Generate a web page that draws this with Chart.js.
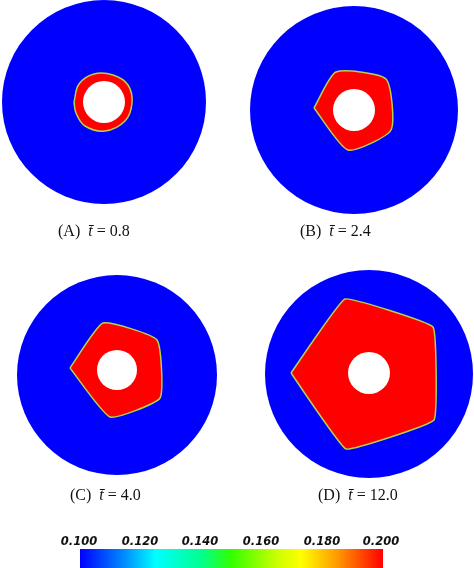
<!DOCTYPE html>
<html>
<head>
<meta charset="utf-8">
<script src="https://cdn.jsdelivr.net/npm/chart.js@4.4.0/dist/chart.umd.min.js"></script>
<style>
  body { margin: 0; background: #fff; }
  #wrap { position: relative; width: 474px; height: 568px; overflow: hidden; }
  #wrap canvas { position: absolute; left: 0; top: 0; z-index: 0; }
  .cap { position: absolute; z-index: 2; font-family: "Liberation Serif", serif; font-size: 16px; color: #111; white-space: pre; }
  .tick { position: absolute; z-index: 2; top: 534px; font-family: "DejaVu Sans", sans-serif; font-style: italic; font-weight: bold; font-size: 11.5px; transform: translateX(-50%); color: #111; }
  #bar { position: absolute; z-index: 2; left: 80px; top: 549px; width: 303px; height: 19px;
    background: linear-gradient(to right, #0000ff 0%, #0090ff 15%, #00ffff 25%, #00ff90 40%, #33ff00 50%, #ccff00 65%, #ffff00 73%, #ff9900 85%, #ff0000 100%); }
</style>
</head>
<body>
<div id="wrap">
  <canvas id="c"></canvas>
  <div class="cap" style="left:58px;top:222px">(A)  <i>t̄</i> = 0.8</div>
  <div class="cap" style="left:300px;top:222px">(B)  <i>t̄</i> = 2.4</div>
  <div class="cap" style="left:70px;top:486px">(C)  <i>t̄</i> = 4.0</div>
  <div class="cap" style="left:318px;top:486px">(D)  <i>t̄</i> = 12.0</div>
  <div id="bar"></div>
</div>
<script>
// panel labels / colour bar
const tickLabels = ["0.100", "0.120", "0.140", "0.160", "0.180", "0.200"];
const tickX = [79, 140, 200, 261, 322, 381];

// outer disks and inner holes: [x, y, radius]
const disks = [[104, 102, 102], [354, 110, 104], [117, 375, 100], [369, 374, 104]];
const holes = [[104, 102, 21], [354, 110, 21], [117, 370, 20], [369, 373, 21]];

// red front outlines
const frontA = [[74,102],[79,84],[94,74],[113,75],[128,85],[132,103],[125,121],[105,131],[85,126],[76,113],[74,102]];
const frontB = [[314,108],[336,72],[386,79],[391,130],[348,150],[314,108]];
const frontC = [[70,368],[103,323],[157,340],[160,398],[110,417],[70,368]];
const frontD = [[291,373],[345,299],[433,327],[434,420],[346,449],[291,373]];

let wrap = document.getElementById("wrap");
tickLabels.forEach((t, i) => {
  let d = document.createElement("div");
  d.className = "tick";
  d.style.left = tickX[i] + "px";
  d.innerText = t;
  wrap.appendChild(d);
});

function pts(arr) {
  return arr.map((p) => ({ x: p[0], y: p[1], r: p[2] }));
}

function front(arr, tension) {
  return {
    type: "line",
    data: arr.map((p) => ({ x: p[0], y: p[1] })),
    fill: "shape",
    backgroundColor: "#ff0000",
    borderColor: "#b5d34a",
    borderWidth: 1.5,
    tension: tension,
    pointRadius: 0,
    order: 2,
  };
}

new Chart(document.getElementById("c"), {
  type: "scatter",
  data: {
    datasets: [
      { type: "bubble", data: pts(disks), backgroundColor: "#0000ff", borderWidth: 0, order: 3 },
      front(frontA, 0.4),
      front(frontB, 0.2),
      front(frontC, 0.15),
      front(frontD, 0.08),
      { type: "bubble", data: pts(holes), backgroundColor: "#ffffff", borderWidth: 0, order: 1 },
    ],
  },
  options: {
    responsive: true,
    maintainAspectRatio: false,
    animation: false,
    layout: { padding: 0, autoPadding: false },
    plugins: { legend: { display: false }, tooltip: { enabled: false } },
    scales: {
      x: { type: "linear", display: false, min: 0, max: 474 },
      y: { type: "linear", display: false, min: 0, max: 568, reverse: true },
    },
  },
});
</script>
</body>
</html>
